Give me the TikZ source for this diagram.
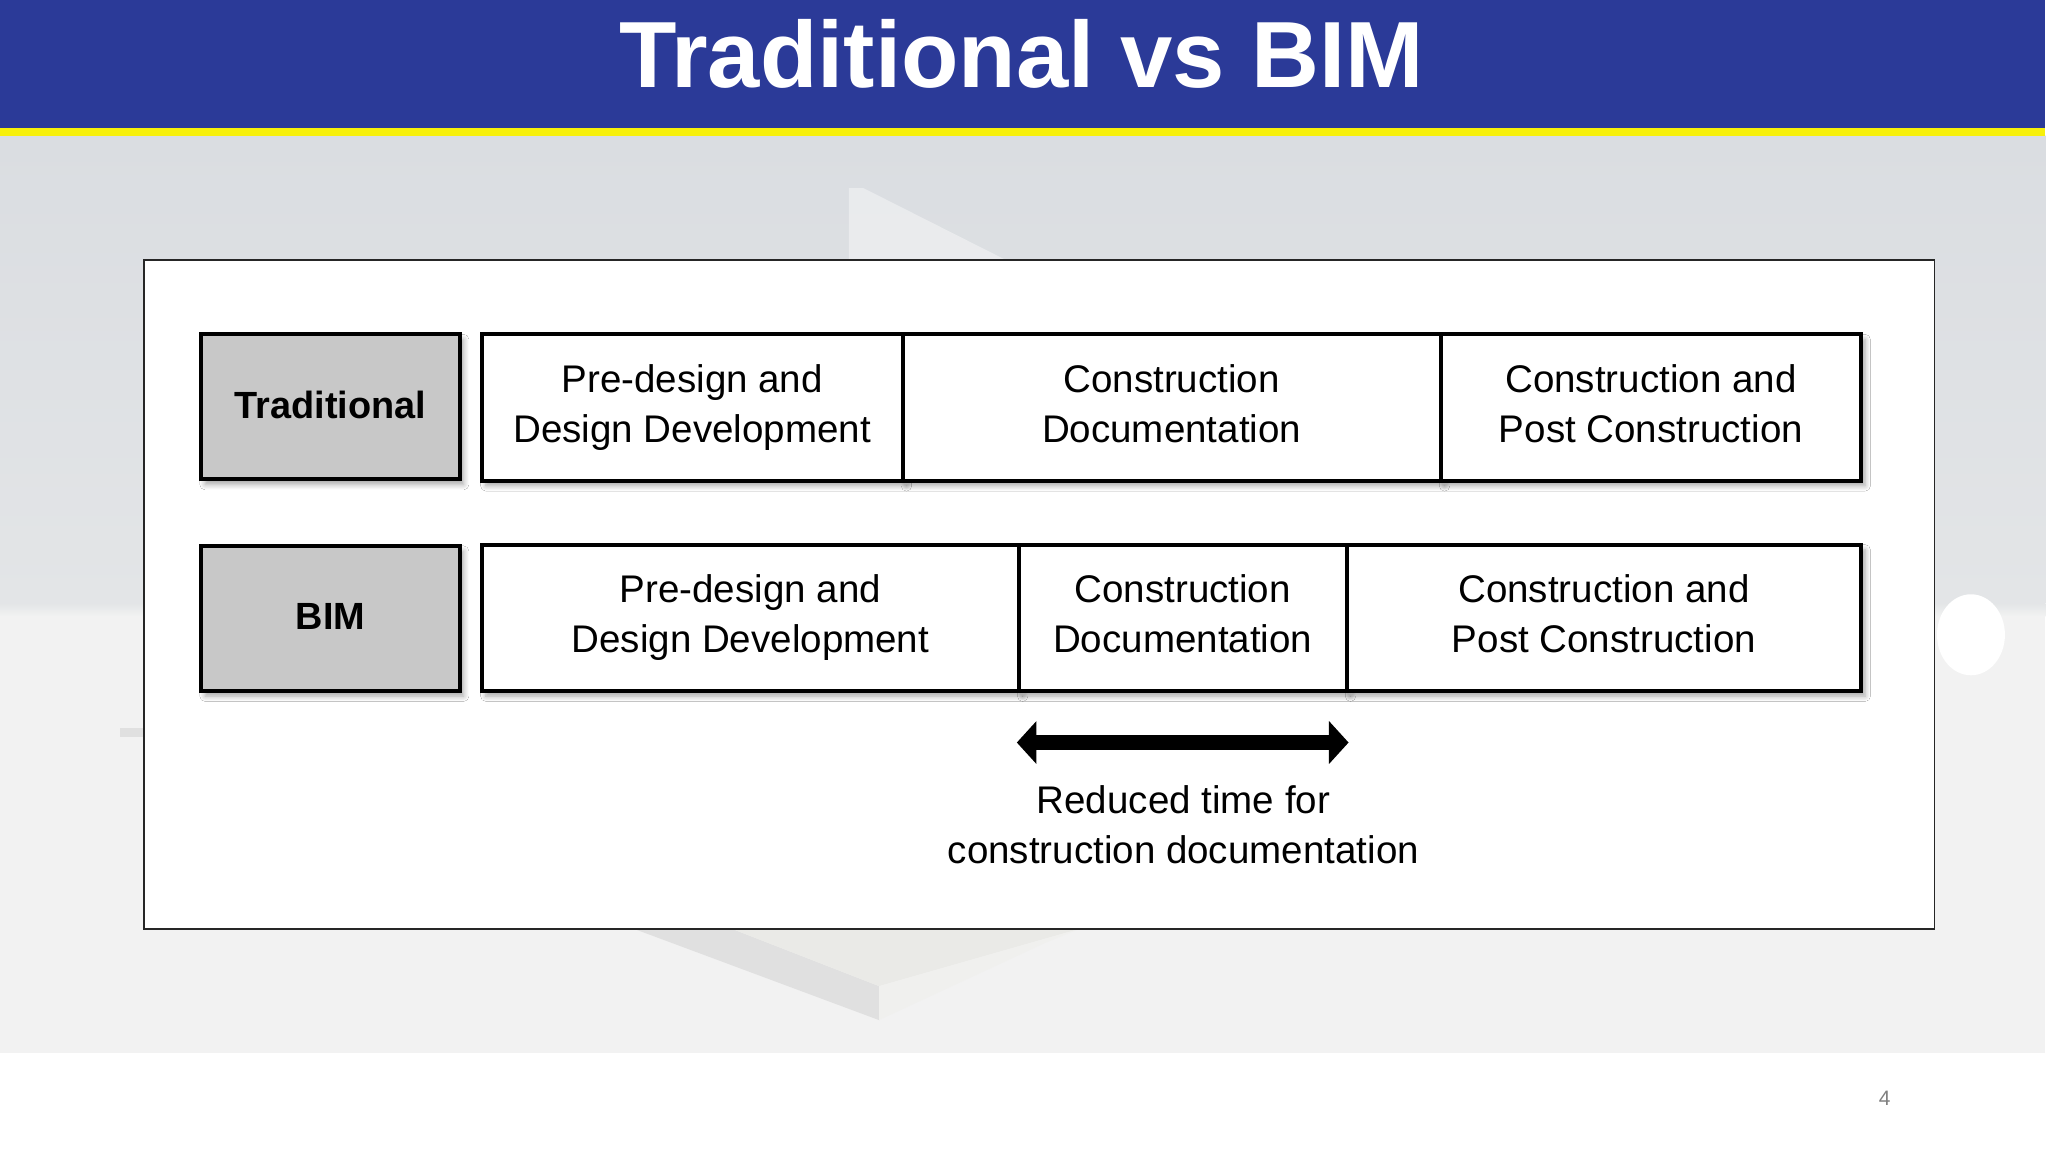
\documentclass[tikz,border=0pt]{standalone}
\usepackage{fontspec}
\setmainfont{Liberation Sans}
\usetikzlibrary{shadows.blur,arrows.meta,calc}
\definecolor{hdrblue}{HTML}{2B3A98}
\definecolor{hdryellow}{HTML}{F7F00A}
\definecolor{bgtop}{HTML}{DADDE1}
\definecolor{bgmid}{HTML}{E3E5E7}
\definecolor{bgbot}{HTML}{F2F2F2}
\definecolor{labelgray}{HTML}{C8C8C8}
\definecolor{bldgdark}{HTML}{E0E0E0}
\definecolor{bldglight}{HTML}{EAEAE7}
\begin{document}
\begin{tikzpicture}[x=1pt,y=-1pt,
  boxshadow/.style={blur shadow={shadow xshift=3pt, shadow yshift=-4pt, shadow blur steps=6, shadow blur radius=4pt, shadow opacity=35}},
  phase/.style={draw=black, line width=3pt, fill=white, minimum height=112pt, inner sep=0pt,
    align=center, font=\fontsize{29.5}{38}\selectfont, boxshadow},
  labelbox/.style={draw=black, line width=3pt, fill=labelgray, minimum width=198pt, minimum height=111pt,
    inner sep=0pt, align=center, font=\fontsize{29}{35}\selectfont\bfseries, boxshadow},
  note/.style={align=center, font=\fontsize{29.5}{38}\selectfont},
  bigarrow/.style={line width=11pt, {Triangle[length=15pt,width=32pt]}-{Triangle[length=15pt,width=32pt]}}
]
\useasboundingbox (0,0) rectangle (1568,882);
\fill[white] (0,0) rectangle (1568,882);
% background photo area
\shade[top color=bgtop, bottom color=bgmid] (0,104) rectangle (1566,462);
\shade[top color=bgmid, bottom color=bgbot] (0,462) rectangle (1566,472);
\fill[bgbot] (0,472) rectangle (1566,806);
% faint building shapes
\fill[white, opacity=0.4] (650,144) -- (661,144) -- (770,199) -- (650,199) -- cycle;
\fill[bldgdark] (485,711) -- (673,781) -- (673,755) -- (560,711) -- cycle;
\fill[bldglight] (560,711) -- (673,755) -- (827,711) -- cycle;
\fill[bldglight!70!white] (673,755) -- (673,781) -- (800,722) -- (827,711) -- cycle;
\fill[black!12] (92,557) rectangle (110,564);
\fill[white] (1509,486) ellipse [x radius=26, y radius=31];
% header
\fill[hdrblue] (0,0) rectangle (1566,98);
\fill[hdryellow] (0,98) rectangle (1566,104);
\node[anchor=base, text=white, font=\fontsize{72}{80}\selectfont\bfseries] (title) at (782,67) {Traditional vs BIM};
% frame
\node[draw=black!85, line width=1.3pt, fill=white, minimum width=1371pt, minimum height=512pt, inner sep=0pt] (frame) at (795.5,455) {};
% row 1
\node[labelbox] (trad) at (253,311.5) {\raisebox{3pt}{Traditional}};
\node[phase, minimum width=322pt] (t1) at (530,312) {\strut Pre-design and\\Design Development\strut};
\node[phase, minimum width=412pt] (t2) at (897,312) {\strut Construction\\Documentation\strut};
\node[phase, minimum width=322pt] (t3) at (1264,312) {\strut Construction and\\Post Construction\strut};
% row 2
\node[labelbox] (bim) at (253,473.5) {\raisebox{3pt}{BIM}};
\node[phase, minimum width=411pt] (b1) at (574.5,473) {\strut Pre-design and\\Design Development\strut};
\node[phase, minimum width=251pt] (b2) at (905.5,473) {\strut Construction\\Documentation\strut};
\node[phase, minimum width=394pt] (b3) at (1228,473) {\strut Construction and\\Post Construction\strut};
% arrow
\coordinate (al) at ([yshift=-38pt]b2.south west);
\coordinate (ar) at ([yshift=-38pt]b2.south east);
\draw[bigarrow] (al) -- (ar);
\node[note] (reduced) at (906,634.5) {\strut Reduced time for\\construction documentation\strut};
% page number
\node[text=black!50, font=\fontsize{16}{18}\selectfont] (pagenum) at (1443,841) {4};
\end{tikzpicture}
\end{document}
